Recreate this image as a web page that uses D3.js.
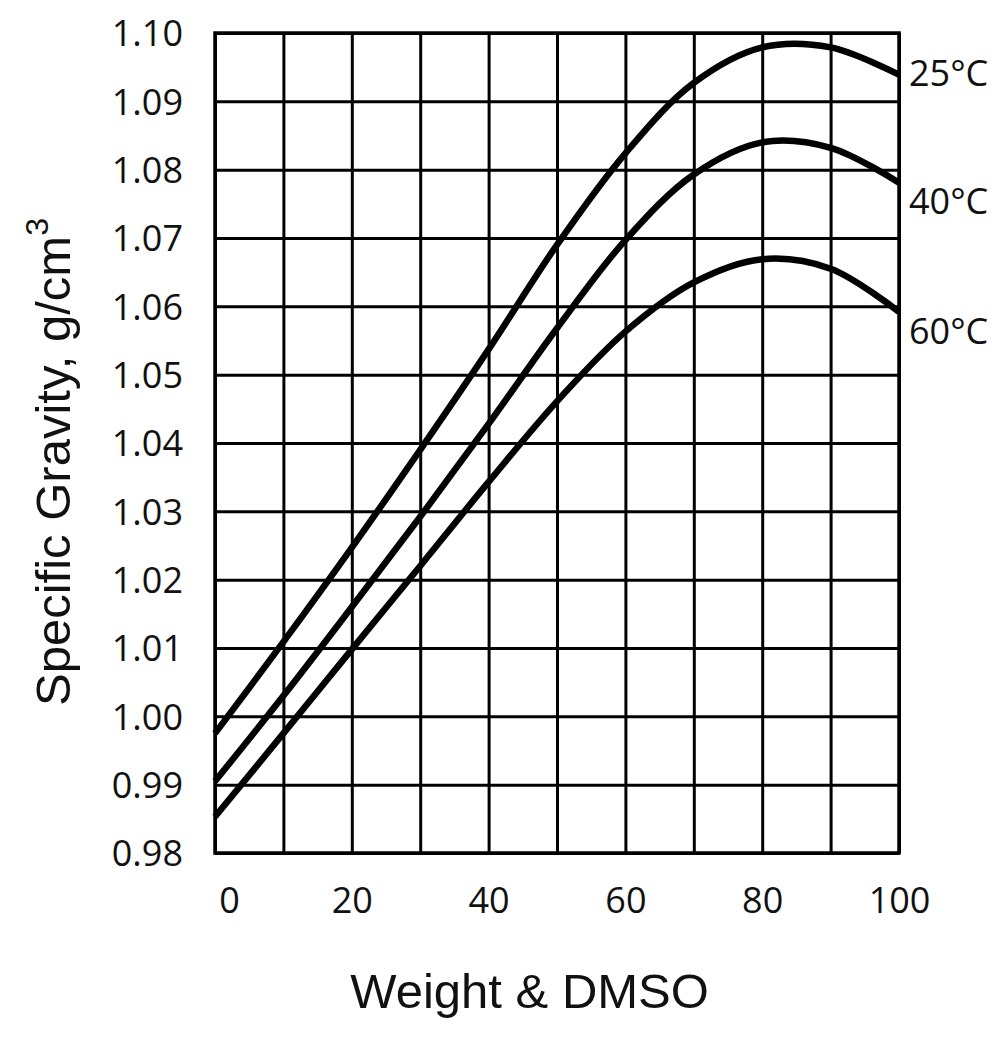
<!DOCTYPE html>
<html>
<head>
<meta charset="utf-8">
<script src="https://cdn.jsdelivr.net/npm/d3@7"></script>
<style>
  body { margin: 0; background: #fff; }
  svg { display: block; }
  .tick text { font-family: "Open Sans", sans-serif; font-size: 36px; fill: #111; }
  .title { font-family: "Liberation Sans", Arial, sans-serif; font-size: 49px; fill: #111; }
  .label { font-family: "Open Sans", sans-serif; font-size: 36px; fill: #111; }
</style>
</head>
<body>
<div id="chart"></div>
<script>
// weight % DMSO sampled along the curves
var weights = [0, 10, 20, 30, 40, 50, 60, 70, 80, 90, 100];

// specific gravity, one array per temperature
var sg25 = [0.9975, 1.0109, 1.0247, 1.0390, 1.0537, 1.0690, 1.0824, 1.0927, 1.0979, 1.0979, 1.0939];
var sg40 = [0.9905, 1.0030, 1.0160, 1.0292, 1.0428, 1.0568, 1.0697, 1.0793, 1.0840, 1.0832, 1.0781];
var sg60 = [0.9853, 0.9975, 1.0098, 1.0220, 1.0343, 1.0461, 1.0563, 1.0635, 1.0669, 1.0655, 1.0592];

var seriesNames = ["25°C", "40°C", "60°C"];
var seriesValues = [sg25, sg40, sg60];

var xTicks = [0, 10, 20, 30, 40, 50, 60, 70, 80, 90, 100];
var xTickLabels = ["0", "", "20", "", "40", "", "60", "", "80", "", "100"];
var yTicks = [0.98, 0.99, 1.00, 1.01, 1.02, 1.03, 1.04, 1.05, 1.06, 1.07, 1.08, 1.09, 1.10];

var margin = {top: 33, right: 101, bottom: 184, left: 215},
    width = 1000 - margin.left - margin.right,
    height = 1037 - margin.top - margin.bottom;

var svg = d3.select("#chart").append("svg")
    .attr("width", 1000)
    .attr("height", 1037)
  .append("g")
    .attr("transform", "translate(" + margin.left + "," + margin.top + ")");

var x = d3.scaleLinear().domain([0, 100]).range([0, width]);
var y = d3.scaleLinear().domain([0.98, 1.10]).range([height, 0]);

// vertical grid + bottom labels
var xAxis = svg.append("g")
    .attr("transform", "translate(0," + height + ")")
    .call(d3.axisBottom(x)
        .tickValues(xTicks)
        .tickSize(-height)
        .tickPadding(0)
        .tickFormat(function(d, i) { return xTickLabels[i]; }));
xAxis.select(".domain").remove();
xAxis.selectAll(".tick line").attr("stroke", "#000").attr("stroke-width", 3);
xAxis.selectAll(".tick text")
    .attr("y", 0)
    .attr("dy", 60)
    .attr("dx", function(d) { return d === 0 ? 14 : 0; });

// horizontal grid + left labels
var yAxis = svg.append("g")
    .call(d3.axisLeft(y)
        .tickValues(yTicks)
        .tickSize(-width)
        .tickPadding(32)
        .tickFormat(d3.format(".2f")));
yAxis.select(".domain").remove();
yAxis.selectAll(".tick line").attr("stroke", "#000").attr("stroke-width", 3);
yAxis.selectAll(".tick text").attr("dy", "0.36em");

// frame
svg.append("rect")
    .attr("width", width)
    .attr("height", height)
    .attr("fill", "none")
    .attr("stroke", "#000")
    .attr("stroke-width", 3.5);

var line = d3.line()
    .x(function(d, i) { return x(weights[i]); })
    .y(function(d) { return y(d); })
    .curve(d3.curveCatmullRom.alpha(0.5));

svg.selectAll("path.curve")
    .data(seriesValues)
  .enter().append("path")
    .attr("class", "curve")
    .attr("d", line)
    .attr("fill", "none")
    .attr("stroke", "#000")
    .attr("stroke-width", 6.5);

// temperature labels at the right end of each curve
var labelOffsets = [11, 31, 32];
svg.selectAll("text.label")
    .data(seriesNames)
  .enter().append("text")
    .attr("class", "label")
    .attr("x", width + 10)
    .attr("y", function(d, i) {
        var v = seriesValues[i];
        return y(v[v.length - 1]) + labelOffsets[i];
    })
    .text(function(d) { return d; });

// axis titles
svg.append("text")
    .attr("class", "title")
    .attr("x", x(46))
    .attr("y", height + 155)
    .attr("text-anchor", "middle")
    .text("Weight & DMSO");

var yTitle = svg.append("text")
    .attr("class", "title")
    .attr("transform", "translate(" + (70 - margin.left) + "," + (462 - margin.top) + ") rotate(-90)")
    .attr("text-anchor", "middle");
yTitle.append("tspan").text("Specific Gravity, g/cm");
yTitle.append("tspan")
    .attr("dy", -22)
    .style("font-size", "32px")
    .text("3");
</script>
</body>
</html>
